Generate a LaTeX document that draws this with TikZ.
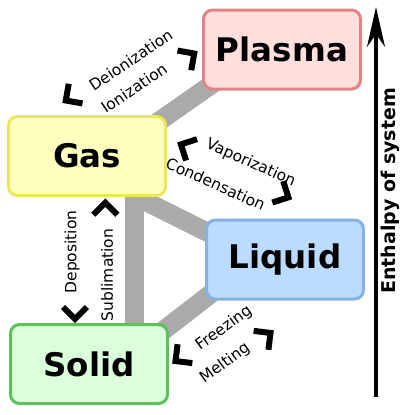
\documentclass[tikz,border=0pt]{standalone}
\usepackage{fontspec}
\setmainfont{DejaVu Sans}
\usetikzlibrary{arrows.meta}
\definecolor{plasmafill}{HTML}{FFDEDE}
\definecolor{plasmaline}{HTML}{E08585}
\definecolor{gasfill}{HTML}{FFFFBE}
\definecolor{gasline}{HTML}{E8E85A}
\definecolor{liquidfill}{HTML}{BBDBFF}
\definecolor{liquidline}{HTML}{85B2E0}
\definecolor{solidfill}{HTML}{DAFFDA}
\definecolor{solidline}{HTML}{5CC05C}
\definecolor{barcol}{HTML}{AAAAAA}
\tikzset{
  pics/chev/.style={code={\draw[line width=6pt, miter limit=10] (-14,-14) -- (-2,-2) -- (-14,10);}},
}
\begin{document}
\begin{tikzpicture}[x=1pt,y=-1pt,
  state/.style={draw, line width=3pt, rounded corners=9pt, minimum width=157pt, minimum height=79pt, inner sep=0pt, font=\fontsize{32.5}{38}\selectfont\bfseries},
  bar/.style={draw=barcol, line width=19pt},
  lbl/.style={font=\fontsize{15.5}{18}\selectfont, inner sep=0pt},
]
\useasboundingbox[fill=white] (0,0) rectangle (412,415);
% bar end points
\coordinate (gpA) at (140,134.6);
\coordinate (gpB) at (250,57.6);
\coordinate (glA) at (130,193.6);
\coordinate (glB) at (260,258.6);
\coordinate (slA) at (140,348.6);
\coordinate (slB) at (250,263.5);
\coordinate (gsA) at (134.5,160);
\coordinate (gsB) at (134.5,360);
\draw[bar] (gpA) -- (gpB);
\draw[bar] (glA) -- (glB);
\draw[bar] (slA) -- (slB);
\draw[bar] (gsA) -- (gsB);
% states
\node[state, fill=plasmafill, draw=plasmaline] (plasma) at (282,49.5) {Plasma};
\node[state, fill=gasfill, draw=gasline] (gas) at (87,156) {Gas};
\node[state, fill=liquidfill, draw=liquidline] (liquid) at (285,259.5) {Liquid};
\node[state, fill=solidfill, draw=solidline] (solid) at (89,364) {Solid};
% labels
\node[lbl, rotate=34] (deion) at (130.7,60) {Deionization};
\node[lbl, rotate=34] (ion) at (134,88) {Ionization};
\node[lbl, rotate=-24] (vap) at (250.7,163.3) {Vaporization};
\node[lbl, rotate=-24] (cond) at (215.7,184) {Condensation};
\node[lbl, rotate=90] (dep) at (72,252) {Deposition};
\node[lbl, rotate=90] (sub) at (107,275) {Sublimation};
\node[lbl, rotate=36] (freeze) at (224,328.3) {Freezing};
\node[lbl, rotate=36] (melt) at (225,363.3) {Melting};
% chevrons
\pic[rotate=215] at (63,100) {chev};
\pic[rotate=35] at (197,54) {chev};
\pic[rotate=153] at (180,141.7) {chev};
\pic[rotate=-27] at (289.3,200) {chev};
\pic[rotate=270] at (73,321) {chev};
\pic[rotate=90] at (107.3,200.7) {chev};
\pic[rotate=218] at (172.7,360.7) {chev};
\pic[rotate=38] at (273.3,333.3) {chev};
% enthalpy axis
\coordinate (enthLow) at (376,397);
\coordinate (enthHigh) at (376,7);
\draw[line width=3.5pt, -{Stealth[length=40pt,width=18pt,inset=13pt]}] (enthLow) -- (enthHigh);
\node[rotate=90, anchor=base, inner sep=0pt, font=\fontsize{19}{22}\selectfont\bfseries] (enth) at (395.5,191) {Enthalpy of system};
\end{tikzpicture}
\end{document}
